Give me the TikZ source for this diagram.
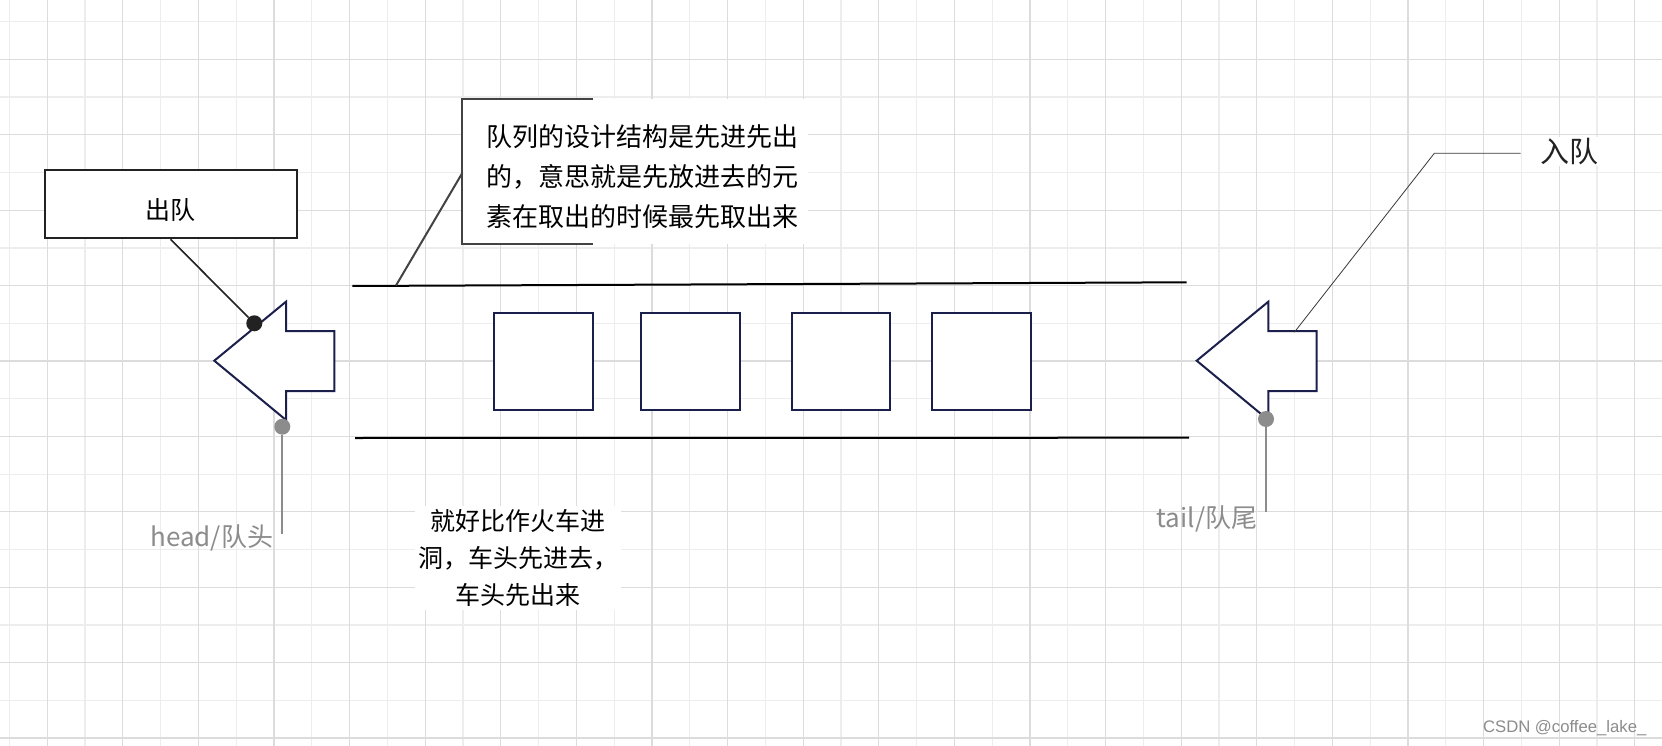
\documentclass[tikz,border=0pt]{standalone}
\usepackage{fontspec}
\setmainfont{Noto Sans CJK SC}
\newfontfamily\wmfont{Liberation Sans}
\usetikzlibrary{positioning}
\definecolor{navy}{HTML}{1B1F4B}
\definecolor{ink}{HTML}{222222}
\definecolor{labelgray}{HTML}{8C8C8C}
\definecolor{gridminor}{HTML}{EDEDED}
\definecolor{gridmajor}{HTML}{DCDCDC}
\tikzstyle{process} = [rectangle, minimum width=252pt, minimum height=68pt, text height=32pt, text centered, draw=ink, fill=white, line width=2pt, font=\fontsize{25}{30}\selectfont]
\tikzstyle{cell} = [rectangle, minimum width=98.5pt, minimum height=97.5pt, draw=navy, fill=white, line width=2pt]
\tikzstyle{bigarrow} = [draw=navy, fill=white, line width=2pt, line join=miter]
\tikzstyle{wall} = [line width=2pt, draw=black]
\tikzstyle{note} = [align=left, inner sep=0pt, font=\fontsize{26}{40}\selectfont]
\tikzstyle{remark} = [align=center, fill=white, inner sep=3pt, font=\fontsize{25}{37}\selectfont]
\tikzstyle{graylabel} = [text=labelgray, inner sep=0pt, font=\fontsize{26}{30}\selectfont]
\tikzstyle{dot} = [circle, fill=ink, inner sep=0pt, minimum size=16pt]
\tikzstyle{graydot} = [dot, fill=labelgray]
\tikzstyle{leader} = [line width=1.6pt, draw=ink]
\tikzstyle{thinleader} = [line width=0.8pt, draw=ink!90]
\tikzstyle{grayleader} = [line width=2pt, draw=labelgray]

\begin{document}
\begin{tikzpicture}[x=1pt, y=-1pt]

\useasboundingbox (0,0) rectangle (1662,746);
\fill[white] (0,0) rectangle (1662,746);

%grid
\foreach \k in {0,...,43}
  \draw[gridminor, line width=1.2pt] ({9.3+37.8*\k},0) -- ++(0,746);
\foreach \k in {0,...,19}
  \draw[gridminor, line width=1.2pt] (0,{21.7+37.7*\k}) -- ++(1662,0);
\foreach \k in {1,3,...,43}
  \draw[gridmajor, line width=1.2pt] ({9.3+37.8*\k},0) -- ++(0,746);
\foreach \k in {1,3,...,19}
  \draw[gridmajor, line width=1.2pt] (0,{21.7+37.7*\k}) -- ++(1662,0);

%queue walls
\draw [wall] (352.3,286) -- (1186.7,282.3);
\draw [wall] (355,438) -- (1189,437.7);

%cells
\node (c1) [cell] at (543.5,361.3) {};
\node (c2) [cell, right=46.6pt of c1] {};
\node (c3) [cell, right=50pt of c2] {};
\node (c4) [cell, right=40pt of c3] {};

%head and tail arrows
\draw [bigarrow] (214.3,360.7) -- (286,301.7) -- (286,331) -- (334.3,331)
  -- (334.3,391) -- (286,391) -- (286,420) -- cycle;
\draw [bigarrow] (1196.7,360.7) -- (1268.3,301.7) -- (1268.3,331) -- (1316.7,331)
  -- (1316.7,391) -- (1268.3,391) -- (1268.3,420) -- cycle;

%dequeue box
\node (out) [process] at (170.5,204.3) {出队};
\node (hdot) [dot] at (254.3,323.3) {};
\draw [leader] (out.south) -- (hdot);

%callout
\fill[white] (462.3,99) rectangle (808,244.3);
\draw [line width=2pt, draw=ink!85] (593.3,99) -- (462.3,99) -- (462.3,244.3) -- (593.3,244.3);
\node (idea) [note] at (642,177) {队列的设计结构是先进先出\\的，意思就是先放进去的元\\素在取出的时候最先取出来};
\coordinate (notetip) at (462.3,173);
\coordinate (wallpt) at (396,285.5);
\draw [line width=2pt, draw=ink!85] (notetip) -- (wallpt);

%enqueue label
\node (in) [fill=white, inner sep=1pt, text=ink, font=\fontsize{29}{32}\selectfont] at (1569,151.5) {入队};
\coordinate (inend) at (1520.7,153.3);
\coordinate (inbend) at (1434.3,153.3);
\coordinate (tailtop) at (1294.3,332.3);
\draw [thinleader] (inend) -- (inbend) -- (tailtop);

%head / tail labels
\node (hgdot) [graydot] at (282.3,426.7) {};
\coordinate (hend) at (282.3,534);
\draw [grayleader] (hgdot) -- (hend);
\node (head) [graylabel] at (211.7,538) {head/队头};

\node (tgdot) [graydot] at (1266,419) {};
\coordinate (tend) at (1266,511.7);
\draw [grayleader] (tgdot) -- (tend);
\node (tail) [graylabel] at (1207,519) {tail/队尾};

%train remark
\node (train) [remark] at (518,558) {就好比作火车进\\洞，车头先进去，\\车头先出来};

%watermark
\node (wm) [text=labelgray, inner sep=0pt, font=\wmfont\fontsize{16.7}{20}\selectfont] at (1564.7,728) {CSDN @coffee\_lake\_};

\end{tikzpicture}
\end{document}
